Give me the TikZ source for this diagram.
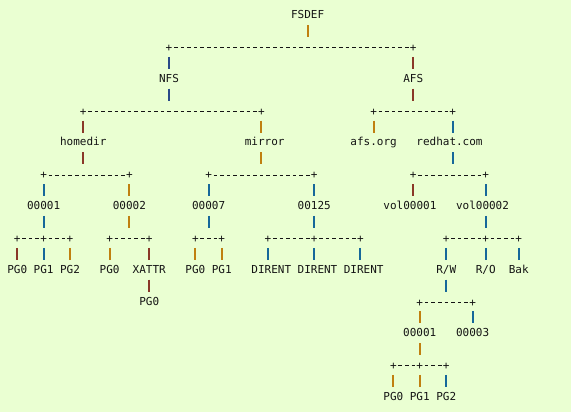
\documentclass[tikz,border=0pt]{standalone}
\usepackage{fontspec}
\newfontfamily\monof{DejaVu Sans Mono}
\definecolor{bg}{HTML}{EAFFD2}
\definecolor{txt}{HTML}{141414}
\definecolor{colR}{HTML}{8A3828}
\definecolor{colT}{HTML}{16689A}
\definecolor{colO}{HTML}{C08010}
\definecolor{colB}{HTML}{2A4A88}
\tikzset{
  lbl/.style={font=\monof\fontsize{11}{12}\selectfont, text=txt, inner sep=0pt,
    minimum height=15.9pt, text height=7.6pt, text depth=2pt},
  pl/.style={lbl, minimum width=6.6pt, text height=8.6pt, text depth=1pt},
  jn/.style={inner sep=0pt, minimum height=15.9pt, minimum width=0pt},
  bar/.style={line width=2pt, shorten <=1pt, shorten >=2.5pt},
  bR/.style={bar, draw=colR},
  bT/.style={bar, draw=colT},
  bO/.style={bar, draw=colO},
  bB/.style={bar, draw=colB},
  hl/.style={line width=0.9pt, draw=txt, dash pattern=on 3.6pt off 3pt, dash phase=5.1pt},
}
\begin{document}
\begin{tikzpicture}
\fill[bg] (0pt,0pt) rectangle (571pt,-412pt);
\useasboundingbox (0pt,0pt) rectangle (571pt,-412pt);
\begin{scope}[x=6.6pt,y=-15.9pt,shift={(10.6pt,-16pt)}]
% row 0-4
\node[lbl] (fsdef) at (45,0) {FSDEF};
\node[jn] (jfs) at (45,2) {};
\node[pl] (pnfs) at (24,2) {+};
\node[pl] (pafs) at (61,2) {+};
\node[lbl] (nfs) at (24,4) {NFS};
\node[lbl] (afs) at (61,4) {AFS};
% row 6-8
\node[jn] (jnfs) at (24,6) {};
\node[pl] (phome) at (11,6) {+};
\node[pl] (pmirror) at (38,6) {+};
\node[jn] (jafs) at (61,6) {};
\node[pl] (pafsorg) at (55,6) {+};
\node[pl] (predhat) at (67,6) {+};
\node[lbl] (homedir) at (11,8) {homedir};
\node[lbl] (mirror) at (38.5,8) {mirror};
\node[lbl] (afsorg) at (55,8) {afs.org};
\node[lbl] (redhat) at (66.5,8) {redhat.com};
% row 10-12
\node[jn] (jhome) at (11,10) {};
\node[pl] (p1) at (5,10) {+};
\node[pl] (p2) at (18,10) {+};
\node[jn] (jmir) at (38,10) {};
\node[pl] (p7) at (30,10) {+};
\node[pl] (p125) at (46,10) {+};
\node[jn] (jred) at (67,10) {};
\node[pl] (pv1) at (61,10) {+};
\node[pl] (pv2) at (72,10) {+};
\node[lbl] (n1) at (5,12) {00001};
\node[lbl] (n2) at (18,12) {00002};
\node[lbl] (n7) at (30,12) {00007};
\node[lbl] (n125) at (46,12) {00125};
\node[lbl] (v1) at (60.5,12) {vol00001};
\node[lbl] (v2) at (71.5,12) {vol00002};
% row 14-16
\node[pl] (pa0) at (1,14) {+};
\node[pl] (pa1) at (5,14) {+};
\node[pl] (pa2) at (9,14) {+};
\node[pl] (pb0) at (15,14) {+};
\node[jn] (jb) at (18,14) {};
\node[pl] (pb1) at (21,14) {+};
\node[pl] (pc0) at (28,14) {+};
\node[jn] (jc) at (30,14) {};
\node[pl] (pc1) at (32,14) {+};
\node[pl] (pd0) at (39,14) {+};
\node[pl] (pd1) at (46,14) {+};
\node[pl] (pd2) at (53,14) {+};
\node[pl] (pe0) at (66,14) {+};
\node[pl] (pe1) at (72,14) {+};
\node[pl] (pe2) at (77,14) {+};
\node[lbl] (a0) at (1,16) {PG0};
\node[lbl] (a1) at (5,16) {PG1};
\node[lbl] (a2) at (9,16) {PG2};
\node[lbl] (b0) at (15,16) {PG0};
\node[lbl] (b1) at (21,16) {XATTR};
\node[lbl] (c0) at (28,16) {PG0};
\node[lbl] (c1) at (32,16) {PG1};
\node[lbl] (d0) at (39.5,16) {DIRENT};
\node[lbl] (d1) at (46.5,16) {DIRENT};
\node[lbl] (d2) at (53.5,16) {DIRENT};
\node[lbl] (e0) at (66,16) {R/W};
\node[lbl] (e1) at (72,16) {R/O};
\node[lbl] (e2) at (77,16) {Bak};
% row 18-24
\node[lbl] (xpg) at (21,18) {PG0};
\node[pl] (pf0) at (62,18) {+};
\node[jn] (jf) at (66,18) {};
\node[pl] (pf1) at (70,18) {+};
\node[lbl] (f0) at (62,20) {00001};
\node[lbl] (f1) at (70,20) {00003};
\node[pl] (pg0) at (58,22) {+};
\node[pl] (pg1) at (62,22) {+};
\node[pl] (pg2) at (66,22) {+};
\node[lbl] (g0) at (58,24) {PG0};
\node[lbl] (g1) at (62,24) {PG1};
\node[lbl] (g2) at (66,24) {PG2};
\end{scope}
% horizontal branch lines
\draw[hl] (pnfs.east) -- (pafs.west);
\draw[hl] (phome.east) -- (pmirror.west);
\draw[hl] (pafsorg.east) -- (predhat.west);
\draw[hl] (p1.east) -- (p2.west);
\draw[hl] (p7.east) -- (p125.west);
\draw[hl] (pv1.east) -- (pv2.west);
\draw[hl] (pa0.east) -- (pa1.west);
\draw[hl] (pa1.east) -- (pa2.west);
\draw[hl] (pb0.east) -- (pb1.west);
\draw[hl] (pc0.east) -- (pc1.west);
\draw[hl] (pd0.east) -- (pd1.west);
\draw[hl] (pd1.east) -- (pd2.west);
\draw[hl] (pe0.east) -- (pe1.west);
\draw[hl] (pe1.east) -- (pe2.west);
\draw[hl] (pf0.east) -- (pf1.west);
\draw[hl] (pg0.east) -- (pg1.west);
\draw[hl] (pg1.east) -- (pg2.west);
% parent bars
\draw[bO] (fsdef.south -| jfs) -- (jfs.north);
\draw[bB] (nfs.south) -- (jnfs.north);
\draw[bR] (afs.south) -- (jafs.north);
\draw[bR] (homedir.south) -- (jhome.north);
\draw[bO] (mirror.south -| jmir) -- (jmir.north);
\draw[bT] (redhat.south -| jred) -- (jred.north);
\draw[bT] (n1.south) -- (pa1.north);
\draw[bO] (n2.south) -- (jb.north);
\draw[bT] (n7.south) -- (jc.north);
\draw[bT] (n125.south) -- (pd1.north);
\draw[bT] (v2.south -| pe1) -- (pe1.north);
\draw[bR] (b1.south) -- (xpg.north);
\draw[bT] (e0.south) -- (jf.north);
\draw[bO] (f0.south) -- (pg1.north);
% child bars
\draw[bB] (pnfs.south) -- (nfs.north -| pnfs);
\draw[bR] (pafs.south) -- (afs.north -| pafs);
\draw[bR] (phome.south) -- (homedir.north -| phome);
\draw[bO] (pmirror.south) -- (mirror.north -| pmirror);
\draw[bO] (pafsorg.south) -- (afsorg.north -| pafsorg);
\draw[bT] (predhat.south) -- (redhat.north -| predhat);
\draw[bT] (p1.south) -- (n1.north -| p1);
\draw[bO] (p2.south) -- (n2.north -| p2);
\draw[bT] (p7.south) -- (n7.north -| p7);
\draw[bT] (p125.south) -- (n125.north -| p125);
\draw[bR] (pv1.south) -- (v1.north -| pv1);
\draw[bT] (pv2.south) -- (v2.north -| pv2);
\draw[bR] (pa0.south) -- (a0.north -| pa0);
\draw[bT] (pa1.south) -- (a1.north -| pa1);
\draw[bO] (pa2.south) -- (a2.north -| pa2);
\draw[bO] (pb0.south) -- (b0.north -| pb0);
\draw[bR] (pb1.south) -- (b1.north -| pb1);
\draw[bO] (pc0.south) -- (c0.north -| pc0);
\draw[bO] (pc1.south) -- (c1.north -| pc1);
\draw[bT] (pd0.south) -- (d0.north -| pd0);
\draw[bT] (pd1.south) -- (d1.north -| pd1);
\draw[bT] (pd2.south) -- (d2.north -| pd2);
\draw[bT] (pe0.south) -- (e0.north -| pe0);
\draw[bT] (pe1.south) -- (e1.north -| pe1);
\draw[bT] (pe2.south) -- (e2.north -| pe2);
\draw[bO] (pf0.south) -- (f0.north -| pf0);
\draw[bT] (pf1.south) -- (f1.north -| pf1);
\draw[bO] (pg0.south) -- (g0.north -| pg0);
\draw[bO] (pg1.south) -- (g1.north -| pg1);
\draw[bT] (pg2.south) -- (g2.north -| pg2);
\end{tikzpicture}
\end{document}
